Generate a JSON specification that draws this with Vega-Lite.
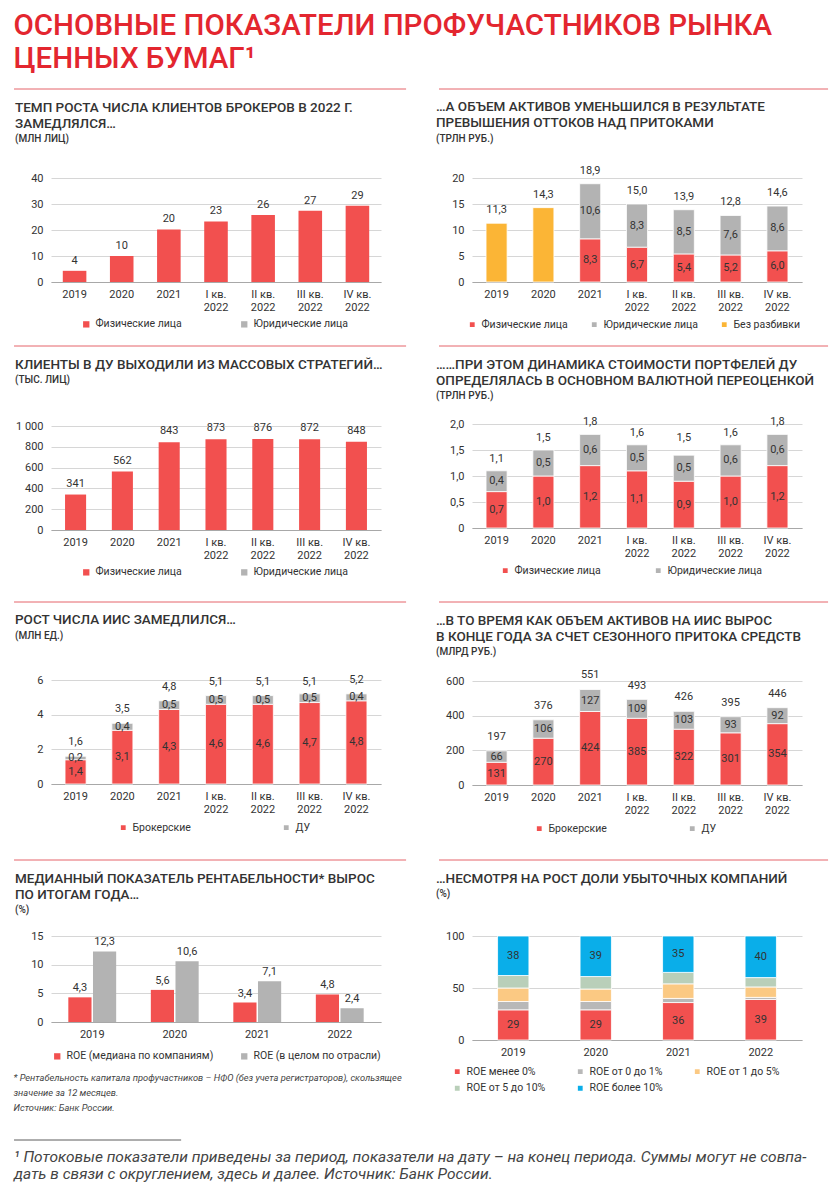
{
  "$schema": "https://vega.github.io/schema/vega-lite/v6.json",
  "padding": {"left": 13, "top": 10, "right": 5, "bottom": 5},
  "title": {"text": ["ОСНОВНЫЕ ПОКАЗАТЕЛИ ПРОФУЧАСТНИКОВ РЫНКА", "ЦЕННЫХ БУМАГ¹"], "fontSize": 29.5, "fontWeight": 500, "color": "#e3262f", "lineHeight": 33, "anchor": "start", "frame": "bounds", "offset": 14},
  "datasets": {
    "A": [
      {"p": "2019", "t": "Физические лица", "v": 4.3},
      {"p": "2020", "t": "Физические лица", "v": 10.0},
      {"p": "2021", "t": "Физические лица", "v": 20.2},
      {"p": "I кв. 2022", "t": "Физические лица", "v": 23.3},
      {"p": "II кв. 2022", "t": "Физические лица", "v": 25.8},
      {"p": "III кв. 2022", "t": "Физические лица", "v": 27.4},
      {"p": "IV кв. 2022", "t": "Физические лица", "v": 29.3}
    ],
    "B": [
      {"p": "2019", "t": "Без разбивки", "k": 0, "v": 11.3},
      {"p": "2020", "t": "Без разбивки", "k": 0, "v": 14.3},
      {"p": "2021", "t": "Физические лица", "k": 1, "v": 8.3},
      {"p": "2021", "t": "Юридические лица", "k": 2, "v": 10.6},
      {"p": "I кв. 2022", "t": "Физические лица", "k": 1, "v": 6.7},
      {"p": "I кв. 2022", "t": "Юридические лица", "k": 2, "v": 8.3},
      {"p": "II кв. 2022", "t": "Физические лица", "k": 1, "v": 5.4},
      {"p": "II кв. 2022", "t": "Юридические лица", "k": 2, "v": 8.5},
      {"p": "III кв. 2022", "t": "Физические лица", "k": 1, "v": 5.2},
      {"p": "III кв. 2022", "t": "Юридические лица", "k": 2, "v": 7.6},
      {"p": "IV кв. 2022", "t": "Физические лица", "k": 1, "v": 6.0},
      {"p": "IV кв. 2022", "t": "Юридические лица", "k": 2, "v": 8.6}
    ],
    "Bt": [
      {"p": "2019", "v": 11.3}, {"p": "2020", "v": 14.3}, {"p": "2021", "v": 18.9},
      {"p": "I кв. 2022", "v": 15.0}, {"p": "II кв. 2022", "v": 13.9},
      {"p": "III кв. 2022", "v": 12.8}, {"p": "IV кв. 2022", "v": 14.6}
    ],
    "C": [
      {"p": "2019", "t": "Физические лица", "v": 341},
      {"p": "2020", "t": "Физические лица", "v": 562},
      {"p": "2021", "t": "Физические лица", "v": 843},
      {"p": "I кв. 2022", "t": "Физические лица", "v": 873},
      {"p": "II кв. 2022", "t": "Физические лица", "v": 876},
      {"p": "III кв. 2022", "t": "Физические лица", "v": 872},
      {"p": "IV кв. 2022", "t": "Физические лица", "v": 848}
    ],
    "D": [
      {"p": "2019", "t": "Физические лица", "k": 1, "v": 0.7},
      {"p": "2019", "t": "Юридические лица", "k": 2, "v": 0.4},
      {"p": "2020", "t": "Физические лица", "k": 1, "v": 1.0},
      {"p": "2020", "t": "Юридические лица", "k": 2, "v": 0.5},
      {"p": "2021", "t": "Физические лица", "k": 1, "v": 1.2},
      {"p": "2021", "t": "Юридические лица", "k": 2, "v": 0.6},
      {"p": "I кв. 2022", "t": "Физические лица", "k": 1, "v": 1.1},
      {"p": "I кв. 2022", "t": "Юридические лица", "k": 2, "v": 0.5},
      {"p": "II кв. 2022", "t": "Физические лица", "k": 1, "v": 0.9},
      {"p": "II кв. 2022", "t": "Юридические лица", "k": 2, "v": 0.5},
      {"p": "III кв. 2022", "t": "Физические лица", "k": 1, "v": 1.0},
      {"p": "III кв. 2022", "t": "Юридические лица", "k": 2, "v": 0.6},
      {"p": "IV кв. 2022", "t": "Физические лица", "k": 1, "v": 1.2},
      {"p": "IV кв. 2022", "t": "Юридические лица", "k": 2, "v": 0.6}
    ],
    "Dt": [
      {"p": "2019", "v": 1.1}, {"p": "2020", "v": 1.5}, {"p": "2021", "v": 1.8},
      {"p": "I кв. 2022", "v": 1.6}, {"p": "II кв. 2022", "v": 1.5},
      {"p": "III кв. 2022", "v": 1.6}, {"p": "IV кв. 2022", "v": 1.8}
    ],
    "E": [
      {"p": "2019", "t": "Брокерские", "k": 1, "v": 1.4},
      {"p": "2019", "t": "ДУ", "k": 2, "v": 0.2},
      {"p": "2020", "t": "Брокерские", "k": 1, "v": 3.1},
      {"p": "2020", "t": "ДУ", "k": 2, "v": 0.4},
      {"p": "2021", "t": "Брокерские", "k": 1, "v": 4.3},
      {"p": "2021", "t": "ДУ", "k": 2, "v": 0.5},
      {"p": "I кв. 2022", "t": "Брокерские", "k": 1, "v": 4.6},
      {"p": "I кв. 2022", "t": "ДУ", "k": 2, "v": 0.5},
      {"p": "II кв. 2022", "t": "Брокерские", "k": 1, "v": 4.6},
      {"p": "II кв. 2022", "t": "ДУ", "k": 2, "v": 0.5},
      {"p": "III кв. 2022", "t": "Брокерские", "k": 1, "v": 4.7},
      {"p": "III кв. 2022", "t": "ДУ", "k": 2, "v": 0.5},
      {"p": "IV кв. 2022", "t": "Брокерские", "k": 1, "v": 4.8},
      {"p": "IV кв. 2022", "t": "ДУ", "k": 2, "v": 0.4}
    ],
    "Et": [
      {"p": "2019", "v": 1.6}, {"p": "2020", "v": 3.5}, {"p": "2021", "v": 4.8},
      {"p": "I кв. 2022", "v": 5.1}, {"p": "II кв. 2022", "v": 5.1},
      {"p": "III кв. 2022", "v": 5.1}, {"p": "IV кв. 2022", "v": 5.2}
    ],
    "F": [
      {"p": "2019", "t": "Брокерские", "k": 1, "v": 131},
      {"p": "2019", "t": "ДУ", "k": 2, "v": 66},
      {"p": "2020", "t": "Брокерские", "k": 1, "v": 270},
      {"p": "2020", "t": "ДУ", "k": 2, "v": 106},
      {"p": "2021", "t": "Брокерские", "k": 1, "v": 424},
      {"p": "2021", "t": "ДУ", "k": 2, "v": 127},
      {"p": "I кв. 2022", "t": "Брокерские", "k": 1, "v": 385},
      {"p": "I кв. 2022", "t": "ДУ", "k": 2, "v": 109},
      {"p": "II кв. 2022", "t": "Брокерские", "k": 1, "v": 322},
      {"p": "II кв. 2022", "t": "ДУ", "k": 2, "v": 103},
      {"p": "III кв. 2022", "t": "Брокерские", "k": 1, "v": 301},
      {"p": "III кв. 2022", "t": "ДУ", "k": 2, "v": 93},
      {"p": "IV кв. 2022", "t": "Брокерские", "k": 1, "v": 354},
      {"p": "IV кв. 2022", "t": "ДУ", "k": 2, "v": 92}
    ],
    "Ft": [
      {"p": "2019", "v": 197}, {"p": "2020", "v": 376}, {"p": "2021", "v": 551},
      {"p": "I кв. 2022", "v": 493}, {"p": "II кв. 2022", "v": 426},
      {"p": "III кв. 2022", "v": 395}, {"p": "IV кв. 2022", "v": 446}
    ],
    "G": [
      {"p": "2019", "t": "ROE (медиана по компаниям)", "v": 4.3},
      {"p": "2019", "t": "ROE (в целом по отрасли)", "v": 12.3},
      {"p": "2020", "t": "ROE (медиана по компаниям)", "v": 5.6},
      {"p": "2020", "t": "ROE (в целом по отрасли)", "v": 10.6},
      {"p": "2021", "t": "ROE (медиана по компаниям)", "v": 3.4},
      {"p": "2021", "t": "ROE (в целом по отрасли)", "v": 7.1},
      {"p": "2022", "t": "ROE (медиана по компаниям)", "v": 4.8},
      {"p": "2022", "t": "ROE (в целом по отрасли)", "v": 2.4}
    ],
    "H": [
      {"p": "2019", "t": "ROE менее 0%", "k": 1, "v": 29},
      {"p": "2019", "t": "ROE от 0 до 1%", "k": 2, "v": 8},
      {"p": "2019", "t": "ROE от 1 до 5%", "k": 3, "v": 13},
      {"p": "2019", "t": "ROE от 5 до 10%", "k": 4, "v": 12},
      {"p": "2019", "t": "ROE более 10%", "k": 5, "v": 38},
      {"p": "2020", "t": "ROE менее 0%", "k": 1, "v": 29},
      {"p": "2020", "t": "ROE от 0 до 1%", "k": 2, "v": 8},
      {"p": "2020", "t": "ROE от 1 до 5%", "k": 3, "v": 12},
      {"p": "2020", "t": "ROE от 5 до 10%", "k": 4, "v": 12},
      {"p": "2020", "t": "ROE более 10%", "k": 5, "v": 39},
      {"p": "2021", "t": "ROE менее 0%", "k": 1, "v": 36},
      {"p": "2021", "t": "ROE от 0 до 1%", "k": 2, "v": 4},
      {"p": "2021", "t": "ROE от 1 до 5%", "k": 3, "v": 14},
      {"p": "2021", "t": "ROE от 5 до 10%", "k": 4, "v": 11},
      {"p": "2021", "t": "ROE более 10%", "k": 5, "v": 35},
      {"p": "2022", "t": "ROE менее 0%", "k": 1, "v": 39},
      {"p": "2022", "t": "ROE от 0 до 1%", "k": 2, "v": 2},
      {"p": "2022", "t": "ROE от 1 до 5%", "k": 3, "v": 10},
      {"p": "2022", "t": "ROE от 5 до 10%", "k": 4, "v": 9},
      {"p": "2022", "t": "ROE более 10%", "k": 5, "v": 40}
    ]
  },
  "vconcat": [
    {
      "hconcat": [
        {
          "vconcat": [
            {"width": 330, "height": 1, "data": {"values": [{}]}, "mark": {"type": "rule", "color": "#e5646a", "strokeWidth": 1}, "encoding": {"x": {"datum": -0.112, "type": "quantitative", "scale": {"domain": [0, 1]}, "axis": null}, "x2": {"datum": 1.076}, "y": {"datum": 0, "type": "quantitative", "scale": {"domain": [0, 1]}, "axis": null}}},
            {
              "width": 330, "height": 104,
              "title": {"text": ["ТЕМП РОСТА ЧИСЛА КЛИЕНТОВ БРОКЕРОВ В 2022 Г.", "ЗАМЕДЛЯЛСЯ…"], "subtitle": "(МЛН ЛИЦ)", "offset": 28, "dx": -36},
              "data": {"name": "A"},
              "encoding": {"x": {"field": "p", "type": "nominal", "title": null, "scale": {"domain": ["2019", "2020", "2021", "I кв. 2022", "II кв. 2022", "III кв. 2022", "IV кв. 2022"], "paddingInner": 0.5, "paddingOuter": 0.25}, "axis": {"labelExpr": "length(datum.value) > 4 ? [slice(datum.value, 0, length(datum.value) - 5), '2022'] : datum.value"}}},
              "layer": [
                {"mark": {"type": "bar"}, "encoding": {"y": {"field": "v", "type": "quantitative", "title": null, "scale": {"domain": [0, 40], "nice": false}, "axis": {"values": [0, 10, 20, 30, 40]}}, "color": {"field": "t", "type": "nominal", "scale": {"domain": ["Физические лица", "Юридические лица"], "range": ["#f2504f", "#b3b3b3"]}, "legend": {"orient": "none", "direction": "horizontal", "title": null, "legendX": 30, "legendY": 141, "columnPadding": 57}}}},
                {"mark": {"type": "text", "dy": -10}, "encoding": {"y": {"field": "v", "type": "quantitative", "title": null, "scale": {"domain": [0, 40], "nice": false}, "axis": {"values": [0, 10, 20, 30, 40]}}, "text": {"field": "v", "type": "quantitative", "format": ".0f"}}}
              ]
            }
          ],
          "spacing": 10,
          "resolve": {"scale": {"color": "independent", "x": "independent", "y": "independent"}, "legend": {"color": "independent"}}
        },
        {
          "vconcat": [
            {"width": 330, "height": 1, "data": {"values": [{}]}, "mark": {"type": "rule", "color": "#e5646a", "strokeWidth": 1}, "encoding": {"x": {"datum": -0.1, "type": "quantitative", "scale": {"domain": [0, 1]}, "axis": null}, "x2": {"datum": 1.079}, "y": {"datum": 0, "type": "quantitative", "scale": {"domain": [0, 1]}, "axis": null}}},
            {
              "width": 330, "height": 104,
              "title": {"text": ["…А ОБЪЕМ АКТИВОВ УМЕНЬШИЛСЯ В РЕЗУЛЬТАТЕ", "ПРЕВЫШЕНИЯ ОТТОКОВ НАД ПРИТОКАМИ"], "subtitle": "(ТРЛН РУБ.)", "offset": 21, "dx": -36},
              "encoding": {"x": {"field": "p", "type": "nominal", "title": null, "scale": {"domain": ["2019", "2020", "2021", "I кв. 2022", "II кв. 2022", "III кв. 2022", "IV кв. 2022"], "paddingInner": 0.55, "paddingOuter": 0.3}, "axis": {"labelExpr": "length(datum.value) > 4 ? [slice(datum.value, 0, length(datum.value) - 5), '2022'] : datum.value"}}},
              "layer": [
                {"data": {"name": "B"}, "mark": {"type": "bar", "stroke": "white", "strokeWidth": 0.8}, "encoding": {"y": {"field": "v", "type": "quantitative", "title": null, "scale": {"domain": [0, 20], "nice": false}, "axis": {"values": [0, 5, 10, 15, 20]}}, "order": {"field": "k"}, "color": {"field": "t", "type": "nominal", "scale": {"domain": ["Физические лица", "Юридические лица", "Без разбивки"], "range": ["#f2504f", "#b3b3b3", "#fbb536"]}, "legend": {"orient": "none", "direction": "horizontal", "title": null, "legendX": -5, "legendY": 141, "columnPadding": 20}}}},
                {"data": {"name": "B"}, "transform": [{"stack": "v", "groupby": ["p"], "sort": [{"field": "k"}], "as": ["v0", "v1"]}, {"fold": ["v0", "v1"], "as": ["edge", "pos"]}, {"aggregate": [{"op": "mean", "field": "pos", "as": "mid"}], "groupby": ["p", "t", "v"]}, {"filter": "datum.t != 'Без разбивки'"}], "mark": {"type": "text"}, "encoding": {"y": {"field": "mid", "type": "quantitative", "title": null, "scale": {"domain": [0, 20], "nice": false}, "axis": {"values": [0, 5, 10, 15, 20]}}, "text": {"field": "v", "type": "quantitative", "format": ".1f"}}},
                {"data": {"name": "Bt"}, "mark": {"type": "text", "dy": -13}, "encoding": {"y": {"field": "v", "type": "quantitative", "title": null, "scale": {"domain": [0, 20], "nice": false}, "axis": {"values": [0, 5, 10, 15, 20]}}, "text": {"field": "v", "type": "quantitative", "format": ".1f"}}}
              ]
            }
          ],
          "spacing": 10,
          "resolve": {"scale": {"color": "independent", "x": "independent", "y": "independent"}, "legend": {"color": "independent"}}
        }
      ],
      "spacing": 29,
      "resolve": {"scale": {"color": "independent", "x": "independent", "y": "independent"}, "legend": {"color": "independent"}}
    },
    {
      "hconcat": [
        {
          "vconcat": [
            {"width": 330, "height": 1, "data": {"values": [{}]}, "mark": {"type": "rule", "color": "#e5646a", "strokeWidth": 1}, "encoding": {"x": {"datum": -0.112, "type": "quantitative", "scale": {"domain": [0, 1]}, "axis": null}, "x2": {"datum": 1.076}, "y": {"datum": 0, "type": "quantitative", "scale": {"domain": [0, 1]}, "axis": null}}},
            {
              "width": 330, "height": 104,
              "title": {"text": "КЛИЕНТЫ В ДУ ВЫХОДИЛИ ИЗ МАССОВЫХ СТРАТЕГИЙ…", "subtitle": "(ТЫС. ЛИЦ)", "offset": 35, "dx": -36},
              "data": {"name": "C"},
              "encoding": {"x": {"field": "p", "type": "nominal", "title": null, "scale": {"domain": ["2019", "2020", "2021", "I кв. 2022", "II кв. 2022", "III кв. 2022", "IV кв. 2022"], "paddingInner": 0.55, "paddingOuter": 0.3}, "axis": {"labelExpr": "length(datum.value) > 4 ? [slice(datum.value, 0, length(datum.value) - 5), '2022'] : datum.value"}}},
              "layer": [
                {"mark": {"type": "bar"}, "encoding": {"y": {"field": "v", "type": "quantitative", "title": null, "scale": {"domain": [0, 1000], "nice": false}, "axis": {"values": [0, 200, 400, 600, 800, 1000], "format": ",d"}}, "color": {"field": "t", "type": "nominal", "scale": {"domain": ["Физические лица", "Юридические лица"], "range": ["#f2504f", "#b3b3b3"]}, "legend": {"orient": "none", "direction": "horizontal", "title": null, "padding": 9, "legendX": 21, "legendY": 132, "columnPadding": 57}}}},
                {"mark": {"type": "text", "dy": -11}, "encoding": {"y": {"field": "v", "type": "quantitative", "title": null, "scale": {"domain": [0, 1000], "nice": false}, "axis": {"values": [0, 200, 400, 600, 800, 1000], "format": ",d"}}, "text": {"field": "v", "type": "quantitative", "format": "d"}}}
              ]
            }
          ],
          "spacing": 10,
          "resolve": {"scale": {"color": "independent", "x": "independent", "y": "independent"}, "legend": {"color": "independent"}}
        },
        {
          "vconcat": [
            {"width": 330, "height": 1, "data": {"values": [{}]}, "mark": {"type": "rule", "color": "#e5646a", "strokeWidth": 1}, "encoding": {"x": {"datum": -0.1, "type": "quantitative", "scale": {"domain": [0, 1]}, "axis": null}, "x2": {"datum": 1.079}, "y": {"datum": 0, "type": "quantitative", "scale": {"domain": [0, 1]}, "axis": null}}},
            {
              "width": 330, "height": 104,
              "title": {"text": ["……ПРИ ЭТОМ ДИНАМИКА СТОИМОСТИ ПОРТФЕЛЕЙ ДУ", "ОПРЕДЕЛЯЛАСЬ В ОСНОВНОМ ВАЛЮТНОЙ ПЕРЕОЦЕНКОЙ"], "subtitle": "(ТРЛН РУБ.)", "offset": 15, "dx": -36},
              "encoding": {"x": {"field": "p", "type": "nominal", "title": null, "scale": {"domain": ["2019", "2020", "2021", "I кв. 2022", "II кв. 2022", "III кв. 2022", "IV кв. 2022"], "paddingInner": 0.55, "paddingOuter": 0.3}, "axis": {"labelExpr": "length(datum.value) > 4 ? [slice(datum.value, 0, length(datum.value) - 5), '2022'] : datum.value"}}},
              "layer": [
                {"data": {"name": "D"}, "mark": {"type": "bar", "stroke": "white", "strokeWidth": 0.8}, "encoding": {"y": {"field": "v", "type": "quantitative", "title": null, "scale": {"domain": [0, 2], "nice": false}, "axis": {"values": [0, 0.5, 1, 1.5, 2], "labelExpr": "datum.value == 0 ? '0' : replace(format(datum.value, '.1f'), '.', ',')"}}, "order": {"field": "k"}, "color": {"field": "t", "type": "nominal", "scale": {"domain": ["Физические лица", "Юридические лица"], "range": ["#f2504f", "#b3b3b3"]}, "legend": {"orient": "none", "direction": "horizontal", "title": null, "padding": 9, "legendX": 19, "legendY": 132, "columnPadding": 51}}}},
                {"data": {"name": "D"}, "transform": [{"stack": "v", "groupby": ["p"], "sort": [{"field": "k"}], "as": ["v0", "v1"]}, {"fold": ["v0", "v1"], "as": ["edge", "pos"]}, {"aggregate": [{"op": "mean", "field": "pos", "as": "mid"}], "groupby": ["p", "t", "v"]}], "mark": {"type": "text"}, "encoding": {"y": {"field": "mid", "type": "quantitative", "title": null, "scale": {"domain": [0, 2], "nice": false}, "axis": {"values": [0, 0.5, 1, 1.5, 2], "labelExpr": "datum.value == 0 ? '0' : replace(format(datum.value, '.1f'), '.', ',')"}}, "text": {"field": "v", "type": "quantitative", "format": ".1f"}}},
                {"data": {"name": "Dt"}, "mark": {"type": "text", "dy": -12}, "encoding": {"y": {"field": "v", "type": "quantitative", "title": null, "scale": {"domain": [0, 2], "nice": false}, "axis": {"values": [0, 0.5, 1, 1.5, 2], "labelExpr": "datum.value == 0 ? '0' : replace(format(datum.value, '.1f'), '.', ',')"}}, "text": {"field": "v", "type": "quantitative", "format": ".1f"}}}
              ]
            }
          ],
          "spacing": 10,
          "resolve": {"scale": {"color": "independent", "x": "independent", "y": "independent"}, "legend": {"color": "independent"}}
        }
      ],
      "spacing": 29,
      "resolve": {"scale": {"color": "independent", "x": "independent", "y": "independent"}, "legend": {"color": "independent"}}
    },
    {
      "hconcat": [
        {
          "vconcat": [
            {"width": 330, "height": 1, "data": {"values": [{}]}, "mark": {"type": "rule", "color": "#e5646a", "strokeWidth": 1}, "encoding": {"x": {"datum": -0.112, "type": "quantitative", "scale": {"domain": [0, 1]}, "axis": null}, "x2": {"datum": 1.076}, "y": {"datum": 0, "type": "quantitative", "scale": {"domain": [0, 1]}, "axis": null}}},
            {
              "width": 330, "height": 104,
              "title": {"text": "РОСТ ЧИСЛА ИИС ЗАМЕДЛИЛСЯ…", "subtitle": "(МЛН ЕД.)", "offset": 33, "dx": -36},
              "encoding": {"x": {"field": "p", "type": "nominal", "title": null, "scale": {"domain": ["2019", "2020", "2021", "I кв. 2022", "II кв. 2022", "III кв. 2022", "IV кв. 2022"], "paddingInner": 0.55, "paddingOuter": 0.3}, "axis": {"labelExpr": "length(datum.value) > 4 ? [slice(datum.value, 0, length(datum.value) - 5), '2022'] : datum.value"}}},
              "layer": [
                {"data": {"name": "E"}, "mark": {"type": "bar", "stroke": "white", "strokeWidth": 0.8}, "encoding": {"y": {"field": "v", "type": "quantitative", "title": null, "scale": {"domain": [0, 6], "nice": false}, "axis": {"values": [0, 2, 4, 6]}}, "order": {"field": "k"}, "color": {"field": "t", "type": "nominal", "scale": {"domain": ["Брокерские", "ДУ"], "range": ["#f2504f", "#b3b3b3"]}, "legend": {"orient": "none", "direction": "horizontal", "title": null, "padding": 10, "legendX": 57, "legendY": 132, "columnPadding": 89}}}},
                {"data": {"name": "E"}, "transform": [{"stack": "v", "groupby": ["p"], "sort": [{"field": "k"}], "as": ["v0", "v1"]}, {"fold": ["v0", "v1"], "as": ["edge", "pos"]}, {"aggregate": [{"op": "mean", "field": "pos", "as": "mid"}], "groupby": ["p", "t", "v"]}], "mark": {"type": "text"}, "encoding": {"y": {"field": "mid", "type": "quantitative", "title": null, "scale": {"domain": [0, 6], "nice": false}, "axis": {"values": [0, 2, 4, 6]}}, "text": {"field": "v", "type": "quantitative", "format": ".1f"}}},
                {"data": {"name": "Et"}, "mark": {"type": "text", "dy": -14}, "encoding": {"y": {"field": "v", "type": "quantitative", "title": null, "scale": {"domain": [0, 6], "nice": false}, "axis": {"values": [0, 2, 4, 6]}}, "text": {"field": "v", "type": "quantitative", "format": ".1f"}}}
              ]
            }
          ],
          "spacing": 10,
          "resolve": {"scale": {"color": "independent", "x": "independent", "y": "independent"}, "legend": {"color": "independent"}}
        },
        {
          "vconcat": [
            {"width": 330, "height": 1, "data": {"values": [{}]}, "mark": {"type": "rule", "color": "#e5646a", "strokeWidth": 1}, "encoding": {"x": {"datum": -0.1, "type": "quantitative", "scale": {"domain": [0, 1]}, "axis": null}, "x2": {"datum": 1.079}, "y": {"datum": 0, "type": "quantitative", "scale": {"domain": [0, 1]}, "axis": null}}},
            {
              "width": 330, "height": 104,
              "title": {"text": ["…В ТО ВРЕМЯ КАК ОБЪЕМ АКТИВОВ НА ИИС ВЫРОС", "В КОНЦЕ ГОДА ЗА СЧЕТ СЕЗОННОГО ПРИТОКА СРЕДСТВ"], "subtitle": "(МЛРД РУБ.)", "offset": 12, "dx": -36},
              "encoding": {"x": {"field": "p", "type": "nominal", "title": null, "scale": {"domain": ["2019", "2020", "2021", "I кв. 2022", "II кв. 2022", "III кв. 2022", "IV кв. 2022"], "paddingInner": 0.55, "paddingOuter": 0.3}, "axis": {"labelExpr": "length(datum.value) > 4 ? [slice(datum.value, 0, length(datum.value) - 5), '2022'] : datum.value"}}},
              "layer": [
                {"data": {"name": "F"}, "mark": {"type": "bar", "stroke": "white", "strokeWidth": 0.8}, "encoding": {"y": {"field": "v", "type": "quantitative", "title": null, "scale": {"domain": [0, 600], "nice": false}, "axis": {"values": [0, 200, 400, 600]}}, "order": {"field": "k"}, "color": {"field": "t", "type": "nominal", "scale": {"domain": ["Брокерские", "ДУ"], "range": ["#f2504f", "#b3b3b3"]}, "legend": {"orient": "none", "direction": "horizontal", "title": null, "padding": 10, "legendX": 52, "legendY": 132, "columnPadding": 79}}}},
                {"data": {"name": "F"}, "transform": [{"stack": "v", "groupby": ["p"], "sort": [{"field": "k"}], "as": ["v0", "v1"]}, {"fold": ["v0", "v1"], "as": ["edge", "pos"]}, {"aggregate": [{"op": "mean", "field": "pos", "as": "mid"}], "groupby": ["p", "t", "v"]}], "mark": {"type": "text"}, "encoding": {"y": {"field": "mid", "type": "quantitative", "title": null, "scale": {"domain": [0, 600], "nice": false}, "axis": {"values": [0, 200, 400, 600]}}, "text": {"field": "v", "type": "quantitative", "format": "d"}}},
                {"data": {"name": "Ft"}, "mark": {"type": "text", "dy": -14}, "encoding": {"y": {"field": "v", "type": "quantitative", "title": null, "scale": {"domain": [0, 600], "nice": false}, "axis": {"values": [0, 200, 400, 600]}}, "text": {"field": "v", "type": "quantitative", "format": "d"}}}
              ]
            }
          ],
          "spacing": 10,
          "resolve": {"scale": {"color": "independent", "x": "independent", "y": "independent"}, "legend": {"color": "independent"}}
        }
      ],
      "spacing": 29,
      "resolve": {"scale": {"color": "independent", "x": "independent", "y": "independent"}, "legend": {"color": "independent"}}
    },
    {
      "hconcat": [
        {
          "vconcat": [
            {"width": 330, "height": 1, "data": {"values": [{}]}, "mark": {"type": "rule", "color": "#e5646a", "strokeWidth": 1}, "encoding": {"x": {"datum": -0.112, "type": "quantitative", "scale": {"domain": [0, 1]}, "axis": null}, "x2": {"datum": 1.076}, "y": {"datum": 0, "type": "quantitative", "scale": {"domain": [0, 1]}, "axis": null}}},
            {
              "width": 330, "height": 86,
              "title": {"text": ["МЕДИАННЫЙ ПОКАЗАТЕЛЬ РЕНТАБЕЛЬНОСТИ* ВЫРОС", "ПО ИТОГАМ ГОДА…"], "subtitle": "(%)", "offset": 15, "dx": -36},
              "data": {"name": "G"},
              "encoding": {"x": {"field": "p", "type": "nominal", "title": null, "scale": {"paddingInner": 0.42, "paddingOuter": 0.21}, "axis": {}}, "xOffset": {"field": "t", "type": "nominal", "scale": {"domain": ["ROE (медиана по компаниям)", "ROE (в целом по отрасли)"], "paddingInner": 0.06}}},
              "layer": [
                {"mark": {"type": "bar"}, "encoding": {"y": {"field": "v", "type": "quantitative", "title": null, "scale": {"domain": [0, 15], "nice": false}, "axis": {"values": [0, 5, 10, 15]}}, "color": {"field": "t", "type": "nominal", "scale": {"domain": ["ROE (медиана по компаниям)", "ROE (в целом по отрасли)"], "range": ["#f2504f", "#b3b3b3"]}, "legend": {"orient": "none", "direction": "horizontal", "title": null, "legendX": 1, "legendY": 115, "columnPadding": 25}}}},
                {"mark": {"type": "text", "dy": -9}, "encoding": {"y": {"field": "v", "type": "quantitative", "title": null, "scale": {"domain": [0, 15], "nice": false}, "axis": {"values": [0, 5, 10, 15]}}, "text": {"field": "v", "type": "quantitative", "format": ".1f"}}}
              ]
            }
          ],
          "spacing": 10,
          "resolve": {"scale": {"color": "independent", "x": "independent", "y": "independent"}, "legend": {"color": "independent"}},
          "title": {"text": ["* Рентабельность капитала профучастников – НФО (без учета регистраторов), скользящее", "значение за 12 месяцев.", "Источник: Банк России."], "orient": "bottom", "anchor": "start", "frame": "bounds", "fontSize": 9.3, "fontStyle": "italic", "fontWeight": "normal", "color": "#444444", "lineHeight": 15, "offset": 12}
        },
        {
          "vconcat": [
            {"width": 330, "height": 1, "data": {"values": [{}]}, "mark": {"type": "rule", "color": "#e5646a", "strokeWidth": 1}, "encoding": {"x": {"datum": -0.1, "type": "quantitative", "scale": {"domain": [0, 1]}, "axis": null}, "x2": {"datum": 1.079}, "y": {"datum": 0, "type": "quantitative", "scale": {"domain": [0, 1]}, "axis": null}}},
            {
              "width": 330, "height": 104,
              "title": {"text": "…НЕСМОТРЯ НА РОСТ ДОЛИ УБЫТОЧНЫХ КОМПАНИЙ", "subtitle": "(%)", "offset": 31, "dx": -36},
              "encoding": {"x": {"field": "p", "type": "nominal", "title": null, "scale": {"paddingInner": 0.62, "paddingOuter": 0.31}, "axis": {}}},
              "layer": [
                {"data": {"name": "H"}, "mark": {"type": "bar", "stroke": "white", "strokeWidth": 0.8}, "encoding": {"y": {"field": "v", "type": "quantitative", "title": null, "scale": {"domain": [0, 100], "nice": false}, "axis": {"values": [0, 50, 100]}}, "order": {"field": "k"}, "color": {"field": "t", "type": "nominal", "scale": {"domain": ["ROE менее 0%", "ROE от 0 до 1%", "ROE от 1 до 5%", "ROE от 5 до 10%", "ROE более 10%"], "range": ["#f2504f", "#b8b8b8", "#fbc983", "#b9cfb9", "#0aaee9"]}, "legend": {"orient": "none", "direction": "horizontal", "title": null, "legendX": -20, "legendY": 130, "columns": 3, "columnPadding": 28, "rowPadding": 4}}}},
                {"data": {"name": "H"}, "transform": [{"stack": "v", "groupby": ["p"], "sort": [{"field": "k"}], "as": ["v0", "v1"]}, {"fold": ["v0", "v1"], "as": ["edge", "pos"]}, {"aggregate": [{"op": "mean", "field": "pos", "as": "mid"}], "groupby": ["p", "t", "v", "k"]}, {"filter": "datum.k == 1 || datum.k == 5"}], "mark": {"type": "text"}, "encoding": {"y": {"field": "mid", "type": "quantitative", "title": null, "scale": {"domain": [0, 100], "nice": false}, "axis": {"values": [0, 50, 100]}}, "text": {"field": "v", "type": "quantitative", "format": "d"}}}
              ]
            }
          ],
          "spacing": 10,
          "resolve": {"scale": {"color": "independent", "x": "independent", "y": "independent"}, "legend": {"color": "independent"}}
        }
      ],
      "spacing": 29,
      "resolve": {"scale": {"color": "independent", "x": "independent", "y": "independent"}, "legend": {"color": "independent"}}
    },
    {
      "width": 770, "height": 12,
      "data": {"values": [{}]},
      "mark": {"type": "rule", "color": "#333333", "strokeWidth": 0.8},
      "encoding": {"x": {"datum": -0.048, "type": "quantitative", "scale": {"domain": [0, 1]}, "axis": null}, "x2": {"datum": 0.169}, "y": {"datum": 0, "type": "quantitative", "scale": {"domain": [0, 1]}, "axis": null}},
      "title": {"text": ["¹ Потоковые показатели приведены за период, показатели на дату – на конец периода. Суммы могут не совпа-", "\u00a0\u00a0\u00a0дать в связи с округлением, здесь и далее. Источник: Банк России."], "orient": "bottom", "anchor": "start", "frame": "group", "dx": -37, "fontSize": 15.5, "fontStyle": "italic", "fontWeight": "normal", "color": "#444444", "lineHeight": 17, "offset": 10}
    }
  ],
  "spacing": 14,
  "resolve": {"scale": {"color": "independent", "x": "independent", "y": "independent"}, "legend": {"color": "independent"}},
  "config": {
    "view": {"stroke": null},
    "font": "Roboto",
    "locale": {"number": {"decimal": ",", "thousands": "\u00a0", "grouping": [3], "currency": ["", ""]}},
    "axis": {"labelFont": "Roboto", "labelFontSize": 11, "labelColor": "#333333"},
    "axisY": {"grid": true, "gridColor": "#d6d6d6", "domain": false, "ticks": false, "labelPadding": 8},
    "axisX": {"grid": false, "domainColor": "#a8a8a8", "ticks": false, "labelAngle": 0, "labelPadding": 6},
    "legend": {"labelFont": "Roboto", "labelFontSize": 10.5, "labelColor": "#333333", "symbolType": "square", "symbolSize": 40, "labelOffset": 4},
    "title": {"font": "Roboto", "fontSize": 13.5, "fontWeight": 500, "color": "#333333", "anchor": "start", "frame": "group", "lineHeight": 16, "subtitleFont": "Roboto", "subtitleFontSize": 10, "subtitleFontWeight": 500, "subtitleColor": "#333333", "subtitlePadding": 4},
    "text": {"font": "Roboto", "fontSize": 11, "color": "#333333"}
  }
}
